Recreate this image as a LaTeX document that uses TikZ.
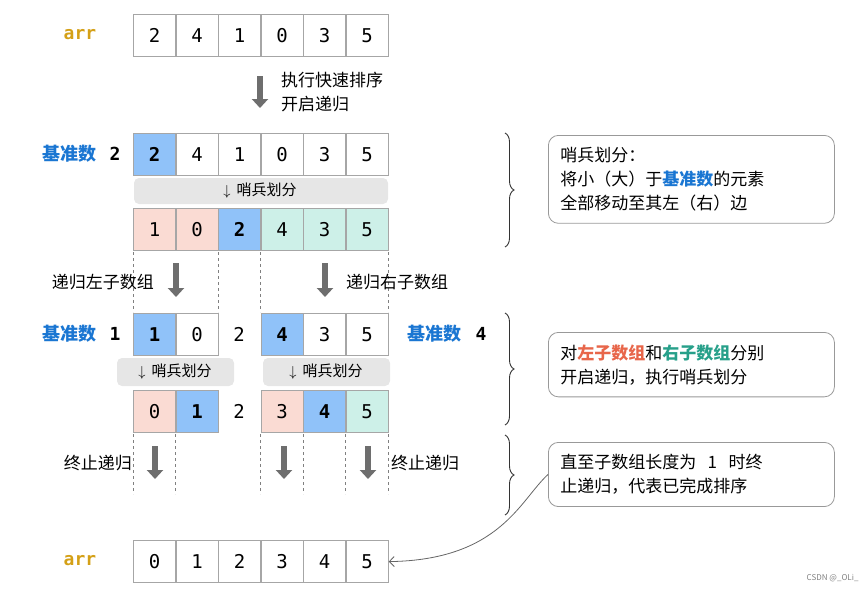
\documentclass[tikz,border=0pt]{standalone}
\usepackage{fontspec}
\setmainfont{Noto Sans CJK SC}
\newfontfamily\monof{DejaVu Sans Mono}
\usetikzlibrary{decorations.pathreplacing,arrows.meta}
\definecolor{pv}{HTML}{90C2F9}
\definecolor{pk}{HTML}{FADBD3}
\definecolor{tl}{HTML}{CDF0E8}
\definecolor{lb}{HTML}{1A76D2}
\definecolor{ar}{HTML}{D4A017}
\definecolor{gb}{HTML}{E6E6E6}
\definecolor{ga}{HTML}{6E6E6E}
\definecolor{lr}{HTML}{E8664A}
\definecolor{lt}{HTML}{27A08A}
\tikzset{
 cell/.style={draw=gray!70,line width=1.2pt,minimum width=42pt,minimum height=42pt,inner sep=0pt,font=\monof\fontsize{19}{19}\selectfont},
 txt/.style={font=\fontsize{17}{24}\selectfont,inner sep=0pt},
 lab/.style={txt,text=lb,font=\fontsize{18}{20}\selectfont\bfseries},
 num/.style={txt,font=\monof\fontsize{18}{20}\selectfont\bfseries},
 band/.style={fill=gb,rounded corners=5pt,draw=none},
 big/.style={-{Triangle[length=9pt,width=16pt]},line width=6pt,draw=ga},
 dl/.style={dashed,gray,line width=0.7pt},
 box/.style={draw=gray!80,rounded corners=10pt,line width=0.8pt,fill=white,align=left,txt,inner sep=12pt,text width=262pt},
 br/.style={decorate,decoration={brace,amplitude=9pt},line width=0.9pt,draw=black!80}
}
\newcommand{\crow}[4]{%
 \foreach \x/\v/\f/\b [count=\i] in {#2}{\node[cell,fill=\f,anchor=north west] (#1\i) at (\x,#3) {\ifnum\b=1\bfseries\fi\v};}}
\begin{document}
\begin{tikzpicture}[x=1pt,y=-1pt]
\useasboundingbox (0,0) rectangle (868,589);
% row 1
\node[num,text=ar] (arr1) at (80,35) {arr};
\crow{a}{133/2/white/0,175.5/4/white/0,218/1/white/0,260.5/0/white/0,303/3/white/0,345.5/5/white/0}{14}{}
\coordinate (s1) at (260,76); \coordinate (e1) at (260,108);
\draw[big] (s1) -- (e1);
\node[txt,anchor=west,align=left] (t1) at (281,92) {执行快速排序\\开启递归};
% row 2
\node[lab,anchor=east] (l2) at (97,154) {基准数};
\node[num] (l2n) at (115,154) {2};
\crow{b}{133/2/pv/1,175.5/4/white/0,218/1/white/0,260.5/0/white/0,303/3/white/0,345.5/5/white/0}{133}{}
\fill[band] (134,178) rectangle (388,204);
\node[txt,font=\fontsize{15}{16}\selectfont] (p1) at (260,191) {$\downarrow$\, 哨兵划分};
\crow{c}{133/1/pk/0,175.5/0/pk/0,218/2/pv/1,260.5/4/tl/0,303/3/tl/0,345.5/5/tl/0}{208}{}
\foreach \x [count=\i] in {133,218,260.5,388}{\coordinate (d\i) at (\x,252); \draw[dl] (d\i) -- ++(0,60);}
\coordinate (s2) at (176,263); \coordinate (e2) at (176,297); \draw[big] (s2) -- (e2);
\coordinate (s3) at (325,263); \coordinate (e3) at (325,297); \draw[big] (s3) -- (e3);
\node[txt,anchor=east] (t2) at (154,282) {递归左子数组};
\node[txt,anchor=west] (t3) at (346,282) {递归右子数组};
% row 4
\node[lab,anchor=east] (l3) at (97,334) {基准数};
\node[num] (l3n) at (115,334) {1};
\node[lab,anchor=east] (l4) at (462,334) {基准数};
\node[num] (l4n) at (481,334) {4};
\crow{d}{133/1/pv/1,175.5/0/white/0}{313}{}
\node[cell,draw=none] (d3) at (239,334) {2};
\crow{e}{260.5/4/pv/1,303/3/white/0,345.5/5/white/0}{313}{}
\fill[band] (117,358) rectangle (234,386);
\node[txt,font=\fontsize{15}{16}\selectfont] (p2) at (175,372) {$\downarrow$\, 哨兵划分};
\fill[band] (263,358) rectangle (390,386);
\node[txt,font=\fontsize{15}{16}\selectfont] (p3) at (326,372) {$\downarrow$\, 哨兵划分};
\crow{f}{133/0/pk/0,175.5/1/pv/1}{390}{}
\node[cell,draw=none] (f3) at (239,411) {2};
\crow{g}{260.5/3/pk/0,303/4/pv/1,345.5/5/tl/0}{390}{}
\foreach \x [count=\i] in {133,175.5,260.5,303,345.5,388}{\coordinate (h\i) at (\x,434); \draw[dl] (h\i) -- ++(0,60);}
\foreach \x [count=\i] in {155,284,368}{\coordinate (bs\i) at (\x,446); \coordinate (be\i) at (\x,479); \draw[big] (bs\i) -- (be\i);}
\node[txt,anchor=east] (t4) at (132,463) {终止递归};
\node[txt,anchor=west] (t5) at (391,463) {终止递归};
% final
\node[num,text=ar] (arr2) at (80,561) {arr};
\crow{z}{133/0/white/0,175.5/1/white/0,218/2/white/0,260.5/3/white/0,303/4/white/0,345.5/5/white/0}{540}{}
% braces
\draw[br] (505,133) -- (505,247);
\draw[br] (505,313) -- (505,425);
\draw[br] (505,435) -- (505,515);
\node[box,anchor=north west] (b1) at (548,135) {哨兵划分：\\将小（大）于\textcolor{lb}{\bfseries 基准数}的元素\\全部移动至其左（右）边};
\node[box,anchor=north west] (b2) at (548,332) {对\textcolor{lr}{\bfseries 左子数组}和\textcolor{lt}{\bfseries 右子数组}分别\\开启递归，执行哨兵划分};
\node[box,anchor=north west] (b3) at (548,442) {直至子数组长度为 \ 1 \ 时终\\止递归，代表已完成排序};
\draw[-{Straight Barb[length=5pt]},gray!80!black,line width=0.8pt] (b3.west) .. controls (520,500) and (500,560) .. (z6.east);
\node[font=\fontsize{8}{9}\selectfont,text=gray,anchor=east] (wm) at (862,578) {CSDN @\_OLi\_};
\end{tikzpicture}
\end{document}
